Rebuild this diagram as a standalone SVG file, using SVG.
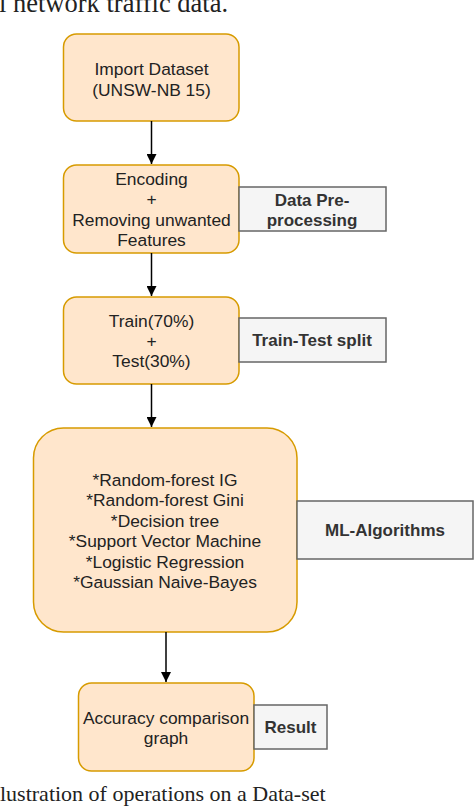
<svg xmlns="http://www.w3.org/2000/svg" width="474" height="806" viewBox="0 0 474 806">
<style>
.step{fill:#FFE6CC;stroke:#D79B00;stroke-width:1.5}
.tag{fill:#F5F5F5;stroke:#666666;stroke-width:1.5}
.t{font-family:"Liberation Sans",Arial,sans-serif;font-size:17.4px;fill:#222222;text-anchor:middle}
.b{font-family:"Liberation Sans",Arial,sans-serif;font-size:17px;font-weight:bold;fill:#333333;text-anchor:middle}
.cap{font-family:"Liberation Serif","Times New Roman",serif;fill:#222222}
.edge{stroke:#000000;stroke-width:1.5;fill:none}
</style>
<defs>
<marker id="arr" viewBox="0 0 10 10" refX="10" refY="5" markerWidth="10" markerHeight="10" markerUnits="userSpaceOnUse" orient="auto">
<path d="M0,0 L10,5 L0,10 z" fill="#000000"/>
</marker>
</defs>
<rect width="474" height="806" fill="#FFFFFF"/>
<text class="cap" x="-1" y="12" font-size="26.5">l network traffic data.</text>
<text class="cap" x="0" y="801" font-size="22">lustration of operations on a Data-set</text>

<g id="import">
<rect class="step" x="63.5" y="34" width="175.5" height="87" rx="13"/>
<text class="t" x="151.5" y="74.5">Import Dataset</text>
<text class="t" x="151.5" y="95.5">(UNSW-NB 15)</text>
</g>
<g id="encoding">
<rect class="step" x="63.5" y="165" width="175.5" height="88" rx="13"/>
<text class="t" x="151.5" y="185">Encoding</text>
<text class="t" x="151.5" y="205">+</text>
<text class="t" x="151.5" y="226">Removing unwanted</text>
<text class="t" x="151.5" y="246">Features</text>
</g>
<g id="preprocessing">
<rect class="tag" x="239" y="187" width="147" height="44"/>
<text class="b" x="312" y="205.5">Data Pre-</text>
<text class="b" x="312" y="226">processing</text>
</g>
<g id="split">
<rect class="step" x="63.5" y="297" width="175.5" height="87" rx="13"/>
<text class="t" x="151.5" y="327">Train(70%)</text>
<text class="t" x="151.5" y="347">+</text>
<text class="t" x="151.5" y="367">Test(30%)</text>
</g>
<g id="splitlabel">
<rect class="tag" x="239" y="318" width="147" height="44"/>
<text class="b" x="312" y="346">Train-Test split</text>
</g>
<g id="algorithms">
<rect class="step" x="33.5" y="428" width="263.5" height="204" rx="30"/>
<text class="t" x="165" y="485.5">*Random-forest IG</text>
<text class="t" x="165" y="506">*Random-forest Gini</text>
<text class="t" x="165" y="526.5">*Decision tree</text>
<text class="t" x="165" y="547">*Support Vector Machine</text>
<text class="t" x="165" y="567.5">*Logistic Regression</text>
<text class="t" x="165" y="588">*Gaussian Naive-Bayes</text>
</g>
<g id="mllabel">
<rect class="tag" x="297" y="501" width="176" height="58"/>
<text class="b" x="385" y="536">ML-Algorithms</text>
</g>
<g id="result">
<rect class="step" x="78.5" y="683" width="175.5" height="88" rx="13"/>
<text class="t" x="166" y="723.5">Accuracy comparison</text>
<text class="t" x="166" y="744">graph</text>
</g>
<g id="resultlabel">
<rect class="tag" x="254" y="705" width="73" height="44"/>
<text class="b" x="290.5" y="733">Result</text>
</g>
<g id="connectors">
<line class="edge" x1="151.5" y1="121" x2="151.5" y2="164" marker-end="url(#arr)"/>
<line class="edge" x1="151.5" y1="253" x2="151.5" y2="296" marker-end="url(#arr)"/>
<line class="edge" x1="151.5" y1="384" x2="151.5" y2="427" marker-end="url(#arr)"/>
<line class="edge" x1="166" y1="632" x2="166" y2="682" marker-end="url(#arr)"/>
</g>
</svg>
